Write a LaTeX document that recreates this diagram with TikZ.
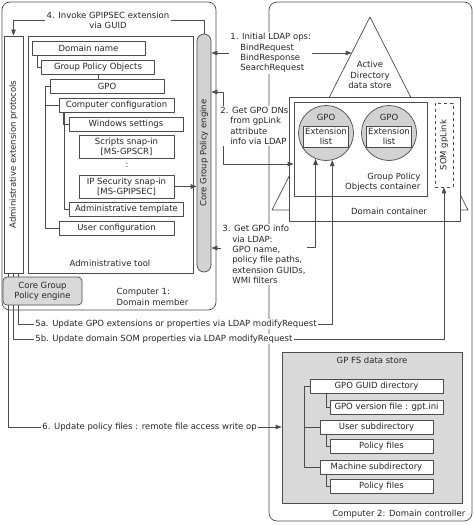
\documentclass[tikz,border=0pt]{standalone}
\usepackage{fontspec}
\setmainfont{DejaVu Sans}
\usetikzlibrary{arrows.meta,calc}
\begin{document}
\begin{tikzpicture}[x=1pt,y=-1pt,>={Triangle[length=6pt,width=4.5pt]}, line join=round,
		line width=0.7pt, color=black!70, text=black!85, font=\fontsize{8.5}{10.3}\selectfont,
		box/.style={draw, fill=white, inner sep=0pt, minimum height=14, align=center},
		lbl/.style={fill=white, inner sep=1pt, align=left}]
		\useasboundingbox (0,0) rectangle (474,525);
		% Computer 1
		\node[draw, rounded corners=8, minimum width=214, minimum height=308] (comp1) at (109,156) {};
		\node[anchor=west, align=left] (c1lbl) at (113,297) {Computer 1:\\Domain member};
		\node[draw, minimum width=19, minimum height=237] (aep) at (13.5,154.5) {};
		\node[rotate=90] at (aep) {Administrative extension protocols};
		\node[draw, fill=gray!30, rounded corners=4, minimum width=79, minimum height=28, align=center] (cgp) at (42.5,291) {Core Group\\Policy engine};
		\node[draw, minimum width=165, minimum height=237] (atool) at (110.5,154.5) {};
		\node at (110,263) {Administrative tool};
		\node[draw, fill=gray!35, rounded corners=7, minimum width=14, minimum height=238] (cgpe) at (204,153) {};
		\node[rotate=90] at (cgpe) {Core Group Policy engine};
		\node[box, minimum width=113] (dn) at (88.5,48) {Domain name};
		\node[box, minimum width=113] (gpos) at (98,67) {Group Policy Objects};
		\node[box, minimum width=114] (gpo) at (107,86) {GPO};
		\node[box, minimum width=115] (cc) at (116.5,105) {Computer configuration};
		\node[box, minimum width=114] (ws) at (126,124) {Windows settings};
		\node[box, minimum width=95, minimum height=23] (ssi) at (126.5,146.5) {Scripts snap-in\\{[MS-GPSCR]}};
		\node (dots) at (127,165) {:};
		\node[box, minimum width=95, minimum height=23] (ips) at (126.5,186.5) {IP Security snap-in\\{[MS-GPIPSEC]}};
		\node[box, minimum width=114] (atpl) at (126.5,209) {Administrative template};
		\node[box, minimum width=115] (uc) at (116.5,228) {User configuration};
		\draw (gpos.west) -- ++(-4,0) coordinate (j) -- (j |- dn.south);
		\draw (gpos.south) -- (gpos.south |- gpo.north);
		\draw (gpo.west) -- ++(-4,0) coordinate (j) |- (uc.west);
		\draw (j |- cc.west) -- (cc.west);
		\foreach \c in {ws,atpl} \draw (\c.west) -- ++(-5,0) coordinate (j) -- (j |- cc.south);
		\draw[->] (ips.east) -- (ips.east -| cgpe.west);
		\node[lbl, align=center] (inv) at (108,20) {4. Invoke GPIPSEC extension\\via GUID};
		\draw (cgpe.north) |- (inv.east);
		\draw[->] (inv.west) -| (aep.north);
		\foreach \dx in {6,11,16} \draw ([xshift=\dx pt]cgp.north west) -- ++(0,-4);
		% Computer 2
		\node[draw, rounded corners=8, minimum width=203, minimum height=519] (comp2) at (370.5,261.5) {};
		\node[anchor=east] at (469,514) {Computer 2: Domain controller};
		\coordinate (adtop) at (370,17);
		\coordinate (adl) at (272,210);
		\coordinate (adr) at (468,210);
		\draw (adtop) -- (adl) -- (adr) -- cycle;
		\node[align=center] at (370,75) {Active\\Directory\\data store};
		\node[draw, fill=white, minimum width=171, minimum height=124] (dom) at (374.5,159) {};
		\node at (389,211) {Domain container};
		\node[draw, minimum width=133, minimum height=94] (gpoc) at (360.5,149) {};
		\node[anchor=east, align=right] at (424,182) {Group Policy\\Objects container};
		\node[draw, dashed, minimum width=18, minimum height=84] (som) at (444,145) {};
		\node[rotate=90] at (som) {SOM gpLink};
		\foreach \i/\x in {1/326,2/389} {
			\node[circle, draw, fill=gray!35, minimum size=55] (gp\i) at (\x,133) {};
			\node at (\x,117) {GPO};
			\node[box, minimum width=45, minimum height=21] (ext\i) at (\x,136.5) {Extension\\list};
		}
		\node[draw, fill=gray!30, minimum width=180, minimum height=151] (gpfs) at (372,427.5) {};
		\node at (372,360) {GP FS data store};
		\node[box, minimum width=133] (gguid) at (376.5,386) {GPO GUID directory};
		\node[box, minimum width=113] (gver) at (386.5,407) {GPO version file : gpt.ini};
		\node[box, minimum width=113] (usub) at (376.5,427) {User subdirectory};
		\node[box, minimum width=103] (upf) at (381.5,446) {Policy files};
		\node[box, minimum width=113] (msub) at (376.5,467) {Machine subdirectory};
		\node[box, minimum width=103] (mpf) at (381.5,486) {Policy files};
		\draw (gguid.west) -- ++(-5,0) coordinate (j) |- (msub.west);
		\draw (j |- usub.west) -- (usub.west);
		\foreach \c/\p in {gver/gguid,upf/usub,mpf/msub} \draw (\c.west) -- ++(-3,0) coordinate (j) -- (j |- \p.south);
		% LDAP and file operations
		\node[lbl, anchor=west] (t1) at (229,53) {1. Initial LDAP ops:\\\hspace*{10pt}BindRequest\\\hspace*{10pt}BindResponse\\\hspace*{10pt}SearchRequest};
		\draw[->] (t1.west) -- (t1.west -| cgpe.east);
		\coordinate (adin) at ($(adtop)!0.187!(adl)$);
		\draw[->] (t1.east) -- (t1.east -| adin);
		\node[lbl, anchor=west] (t2) at (219,126) {2. Get GPO DNs\\\hspace*{10pt}from gpLink\\\hspace*{10pt}attribute\\\hspace*{10pt}info via LDAP};
		\coordinate (t2n) at ([xshift=4pt]t2.north west);
		\coordinate (t2s) at ([xshift=4pt]t2.south west);
		\draw[->] (t2n) |- ([yshift=61pt]cgpe.east);
		\draw[->] (t2s) |- ([yshift=-15pt]gpoc.west);
		\node[lbl, anchor=west] (t3) at (221,254.5) {3. Get GPO info\\\hspace*{10pt}via LDAP:\\\hspace*{10pt}GPO name,\\\hspace*{10pt}policy file paths,\\\hspace*{10pt}extension GUIDs,\\\hspace*{10pt}WMI filters};
		\coordinate (t3l) at ([yshift=6.5pt]t3.west);
		\coordinate (t3r) at ([yshift=7.5pt]t3.east);
		\draw[->] (t3l) -- (t3l -| cgpe.east);
		\draw[->] (t3r) -| (gp1.248);
		\node[lbl, anchor=west] (t5a) at (34,324) {5a. Update GPO extensions or properties via LDAP modifyRequest};
		\node[lbl, anchor=west] (t5b) at (34,339) {5b. Update domain SOM properties via LDAP modifyRequest};
		\node[lbl, anchor=west] (t6) at (41,427) {6. Update policy files : remote file access write op};
		\draw ([xshift=16pt]cgp.south west) |- (t5a.west);
		\draw[->] (t5a.east) -| (gp1.283);
		\draw ([xshift=11pt]cgp.south west) |- (t5b.west);
		\draw[->] (t5b.east) -| (som.south);
		\draw ([xshift=6pt]cgp.south west) |- (t6.west);
		\draw[->] (t6.east) -- (t6.east -| gpfs.west);
\end{tikzpicture}
\end{document}
